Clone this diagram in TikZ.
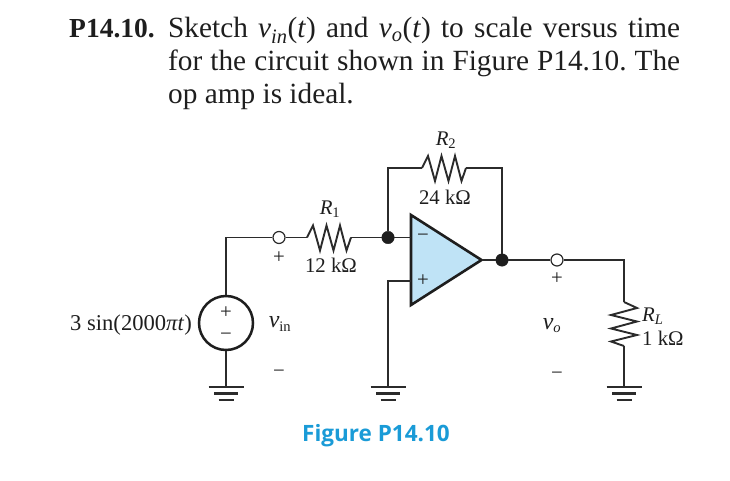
\documentclass[tikz,border=0pt]{standalone}
\usepackage{fontspec}
\setmainfont{Liberation Serif}
\newfontfamily\figfont{Open Sans}
\definecolor{ampfill}{HTML}{BFE3F6}
\definecolor{wirecol}{HTML}{2B2B2B}
\definecolor{figblue}{HTML}{1A9BD7}
\definecolor{inkcol}{HTML}{1E1E1E}
\tikzset{
  wire/.style={draw=wirecol,line width=1.5pt,line join=miter},
  resist/.style={draw=wirecol,line width=1.9pt,line join=miter},
  dotnode/.style={circle,fill=inkcol,draw=inkcol,inner sep=0pt,minimum size=12.5pt},
  opennode/.style={circle,fill=white,draw=wirecol,line width=1.2pt,inner sep=0pt,minimum size=12pt},
  lbl/.style={inner sep=0pt,text=inkcol,font=\fontsize{20.8}{24}\selectfont},
  head/.style={inner sep=0pt,anchor=base west,text=inkcol,font=\fontsize{29.3}{33}\selectfont},
  gndbar/.style={draw=wirecol,line width=2.4pt}
}
\newcommand{\gnd}[2]{%
  \draw[gndbar] (#1-17.5,#2) -- (#1+17.5,#2);
  \draw[gndbar] (#1-12,#2+6.5) -- (#1+12,#2+6.5);
  \draw[gndbar] (#1-7.5,#2+13) -- (#1+7.5,#2+13);}
\begin{document}
\begin{tikzpicture}[x=1pt,y=-1pt]
\useasboundingbox (0,0) rectangle (730,481);
% heading
\node[head,font=\fontsize{27.5}{32}\selectfont\bfseries] (hp) at (69,38) {P14.10.};
\node[head] (h1) at (168,38) {\frenchspacing\makebox[512pt][s]{Sketch \textit{v\textsubscript{in}}(\textit{t}) and \textit{v\textsubscript{o}}(\textit{t}) to scale versus time}};
\node[head] (h2) at (168,71) {\frenchspacing\makebox[512pt][s]{for the circuit shown in Figure P14.10. The}};
\node[head] (h3) at (168,104) {op amp is ideal.};
% coordinates
\coordinate (cornerL) at (226,237.5);
\coordinate (R1a) at (307,237.5);
\coordinate (R1b) at (351,237.5);
\coordinate (R2a) at (422,168);
\coordinate (R2b) at (466,168);
\coordinate (fbL) at (388,168);
\coordinate (fbR) at (502,168);
\coordinate (inM) at (411,237.5);
\coordinate (inP) at (411,281);
\coordinate (pCorner) at (388,281);
\coordinate (gndS) at (226,387);
\coordinate (gndP) at (388,387);
\coordinate (gndL) at (624,387);
\coordinate (cornerR) at (624,260);
\coordinate (RLa) at (624,302);
\coordinate (RLb) at (624,346);
% op amp
\node[inner sep=0pt] (tip) at (481.5,260) {};
\filldraw[fill=ampfill,draw=inkcol,line width=2.6pt,line join=miter] (411,215) -- (481.5,260) -- (411,305) -- cycle;
% nodes
\node[circle,draw=inkcol,fill=white,line width=2.5pt,minimum size=54pt,inner sep=0pt] (src) at (226,323) {};
\node[opennode] (tin) at (279,237.5) {};
\node[opennode] (tout) at (557,260) {};
\node[dotnode] (jm) at (388,237.5) {};
\node[dotnode] (jo) at (502,260) {};
% wires
\draw[wire] (src.north) -- (cornerL) -- (tin);
\draw[wire] (tin) -- (R1a);
\draw[wire] (R1b) -- (jm) -- (inM);
\draw[wire] (jm) -- (fbL) -- (R2a);
\draw[wire] (R2b) -- (fbR) -- (jo);
\draw[wire] (tip) -- (jo) -- (tout) -- (cornerR) -- (RLa);
\draw[wire] (RLb) -- (gndL);
\draw[wire] (inP) -- (pCorner) -- (gndP);
\draw[wire] (src.south) -- (gndS);
% resistors
\draw[resist] (R1a) -- ++(6,-12) -- ++(7,25) -- ++(6.5,-25) -- ++(7,25) -- ++(6.5,-25) -- ++(6.5,25) -- (R1b);
\draw[resist] (R2a) -- ++(6,-12) -- ++(7,25) -- ++(6.5,-25) -- ++(7,25) -- ++(6.5,-25) -- ++(6.5,25) -- (R2b);
\draw[resist] (RLa) -- ++(13,6) -- ++(-26,7) -- ++(26,6.5) -- ++(-26,7) -- ++(26,6.5) -- ++(-26,6.5) -- (RLb);
% grounds
\gnd{226}{387}
\gnd{388}{387}
\gnd{624}{387}
% labels
\node[lbl] (lr1) at (330,209) {\textit{R}\textsubscript{1}};
\node[lbl] (lr1v) at (331,265) {12 kΩ};
\node[lbl] (lr2) at (446,140) {\textit{R}\textsubscript{2}};
\node[lbl] (lr2v) at (445,197) {24 kΩ};
\node[lbl,anchor=west] (lrl) at (642,316) {\textit{R\textsubscript{L}}};
\node[lbl,anchor=west] (lrlv) at (642,338) {1 kΩ};
\node[lbl,anchor=east,font=\fontsize{22.6}{24}\selectfont] (lsrc) at (192,325) {3 sin(2000\textit{πt})};
\node[lbl] (pin) at (279,258) {+};
\node[lbl] (vin) at (280,324) {{\fontsize{24}{24}\selectfont\textit{v}}\textsubscript{in}};
\node[lbl] (min) at (279,374) {−};
\node[lbl] (pout) at (557,279) {+};
\node[lbl] (vout) at (552,326) {{\fontsize{24}{24}\selectfont\textit{v}}\textit{\textsubscript{o}}};
\node[lbl] (mout) at (557,376) {−};
\node[lbl] (splus) at (226,313) {+};
\node[lbl] (sminus) at (226,337) {−};
\node[lbl] (aminus) at (423,238) {−};
\node[lbl] (aplus) at (423,281) {+};
\node[inner sep=0pt,text=figblue,font=\figfont\fontsize{22.5}{26}\selectfont\bfseries] (fig) at (376,436) {Figure P14.10};
\end{tikzpicture}
\end{document}
